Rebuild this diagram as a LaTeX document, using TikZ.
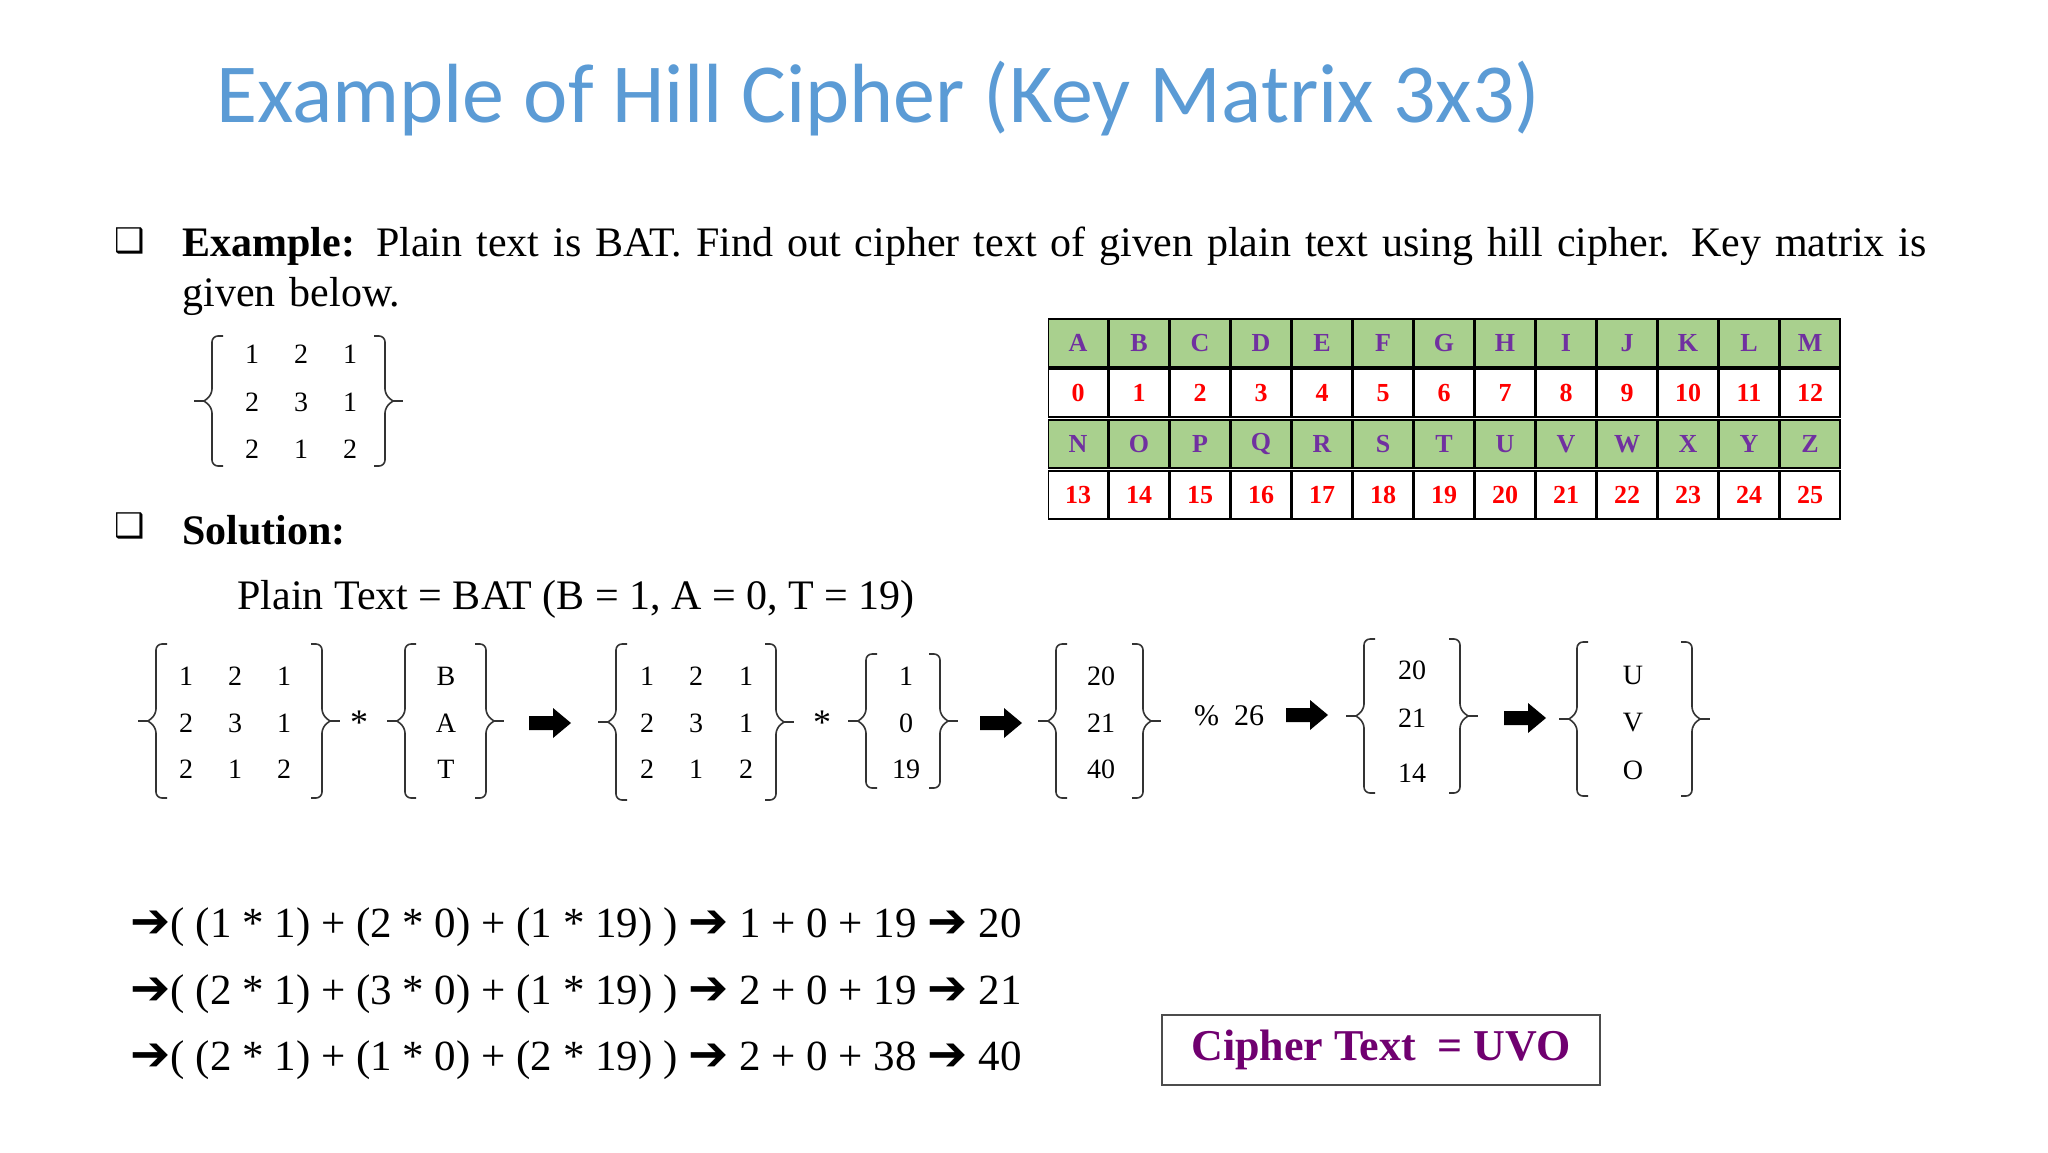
\documentclass[tikz,border=0pt]{standalone}
\usepackage{fontspec}
\setmainfont{Liberation Serif}
\newfontfamily\titlefont{Carlito}
\newfontfamily\symfont{DejaVu Sans}
\definecolor{titleblue}{RGB}{91,155,213}
\definecolor{tgreen}{RGB}{169,208,142}
\definecolor{tpurple}{RGB}{112,48,160}
\definecolor{cpurple}{RGB}{112,0,112}
\tikzset{
  lb/.style={draw=black!80,line width=0.8pt,rounded corners=3pt},
  ent/.style={font=\fontsize{14}{16}\selectfont,inner sep=0pt},
  cell/.style={draw=black,line width=0.8pt,minimum width=29.7pt,minimum height=24.2pt,inner sep=0pt,font=\bfseries\fontsize{13}{15}\selectfont},
  bul/.style={inner sep=0pt,font=\symfont\fontsize{17}{19}\selectfont},
  bigtext/.style={font=\fontsize{21}{25}\selectfont,inner sep=0pt,anchor=west},
}
% bracket pair: #1 left x, #2 right x, #3 top y, #4 bottom y
\newcommand{\brk}[4]{%
  \draw[lb] ({#1+11},#3) -- (#1,#3) -- (#1,{(#3+#4)/2-6}) -- ({#1-8},{(#3+#4)/2});
  \draw[lb] ({#1-8},{(#3+#4)/2}) -- (#1,{(#3+#4)/2+6}) -- (#1,#4) -- ({#1+11},#4);
  \draw[draw=black!80,line width=0.8pt] ({#1-8},{(#3+#4)/2}) -- ({#1-18},{(#3+#4)/2});
  \draw[lb] ({#2-11},#3) -- (#2,#3) -- (#2,{(#3+#4)/2-6}) -- ({#2+8},{(#3+#4)/2});
  \draw[lb] ({#2+8},{(#3+#4)/2}) -- (#2,{(#3+#4)/2+6}) -- (#2,#4) -- ({#2-11},#4);
  \draw[draw=black!80,line width=0.8pt] ({#2+8},{(#3+#4)/2}) -- ({#2+18},{(#3+#4)/2});
}
\newcommand{\blkarrow}[1]{%
  \fill ([shift={(-21,-7)}]#1) -- ([shift={(3,-7)}]#1) -- ([shift={(3,-15)}]#1) -- ([shift={(21,0)}]#1) -- ([shift={(3,15)}]#1) -- ([shift={(3,7)}]#1) -- ([shift={(-21,7)}]#1) -- cycle;
}
\begin{document}
\begin{tikzpicture}[x=0.5pt,y=-0.5pt]
\useasboundingbox (0,0) rectangle (2048,1152);
% title
\node[anchor=west,inner sep=0pt,text=titleblue,font=\titlefont\fontsize{42}{48}\selectfont] (title) at (216,99) {Example of Hill Cipher (Key Matrix 3x3)};
% example
\node[bul] (b1) at (130,241) {❑};
\node[bigtext,anchor=base west,text width=895pt] (ex) at (182,256) {\raggedright\textbf{Example:} Plain text is BAT. Find out cipher text of given plain text using hill cipher. Key matrix is given below.\par};
% key matrix
\brk{212}{385}{336}{466}
\foreach \r/\a/\b/\c [count=\i] in {354/1/2/1,402/2/3/1,449/2/1/2}{
  \node[ent] (k\i a) at (252,\r) {\a};
  \node[ent] (k\i b) at (301,\r) {\b};
  \node[ent] (k\i c) at (350,\r) {\c};
}
% table
\foreach \L [count=\i from 0] in {A,B,C,D,E,F,G,H,I,J,K,L,M}{
  \node[cell,fill=tgreen,text=tpurple] (t\i) at ({1078+61*\i},343) {\L};
  \node[cell,text=red] (n\i) at ({1078+61*\i},393) {\i};
}
\foreach \L [count=\i from 0] in {N,O,P,Q,R,S,T,U,V,W,X,Y,Z}{
  \pgfmathtruncatemacro\v{\i+13}
  \node[cell,fill=tgreen,text=tpurple] (u\i) at ({1078+61*\i},444) {\L};
  \node[cell,text=red] (m\i) at ({1078+61*\i},495) {\v};
}
% solution
\node[bul] (b2) at (130,526) {❑};
\node[bigtext] (sol) at (182,530) {\textbf{Solution:}};
\node[bigtext] (pt) at (237,599) {Plain Text = BAT (B = 1, A = 0, T = 19)};
% matrices row
\begin{scope}[yshift=6pt]
\brk{156}{322}{656}{810}
\foreach \r/\a/\b/\c [count=\i] in {688/1/2/1,735/2/3/1,781/2/1/2}{
  \node[ent] (a\i a) at (186,\r) {\a};
  \node[ent] (a\i b) at (235,\r) {\b};
  \node[ent] (a\i c) at (284,\r) {\c};
}
\node[ent,font=\fontsize{18}{20}\selectfont] (s1) at (359,735) {*};
\brk{405}{486}{656}{810}
\node[ent] (v1) at (446,688) {B};
\node[ent] (v2) at (446,735) {A};
\node[ent] (v3) at (446,781) {T};
\coordinate (ar1) at (550,735); \blkarrow{ar1}
\brk{616}{776}{656}{812}
\foreach \r/\a/\b/\c [count=\i] in {688/1/2/1,735/2/3/1,781/2/1/2}{
  \node[ent] (c\i a) at (647,\r) {\a};
  \node[ent] (c\i b) at (696,\r) {\b};
  \node[ent] (c\i c) at (746,\r) {\c};
}
\node[ent,font=\fontsize{18}{20}\selectfont] (s2) at (822,735) {*};
\brk{866}{940}{666}{800}
\node[ent] (w1) at (906,688) {1};
\node[ent] (w2) at (906,735) {0};
\node[ent] (w3) at (906,781) {19};
\coordinate (ar2) at (1001,735); \blkarrow{ar2}
\brk{1056}{1143}{656}{810}
\node[ent] (x1) at (1101,688) {20};
\node[ent] (x2) at (1101,735) {21};
\node[ent] (x3) at (1101,781) {40};
\node[ent,font=\fontsize{15}{17}\selectfont] (mod) at (1229,728) {\%\ \ 26};
\coordinate (ar3) at (1307,727); \blkarrow{ar3}
\brk{1364}{1460}{651}{805}
\node[ent] (y1) at (1412,682) {20};
\node[ent] (y2) at (1412,730) {21};
\node[ent] (y3) at (1412,785) {14};
\coordinate (ar4) at (1525,730); \blkarrow{ar4}
\brk{1577}{1692}{654}{808}
\node[ent] (z1) at (1633,687) {U};
\node[ent] (z2) at (1633,735) {V};
\node[ent] (z3) at (1633,782) {O};
\end{scope}
% equations
\newcommand{\ar}{{\symfont\bfseries\fontsize{24}{26}\selectfont\char"2794}}
\tikzset{eq/.style={bigtext,font=\fontsize{21.5}{26}\selectfont}}
\node[eq] (e1) at (130,927) {\ar( (1 * 1) + (2 * 0) + (1 * 19) ) \ar\ 1 + 0 + 19 \ar\ 20};
\node[eq] (e2) at (130,994) {\ar( (2 * 1) + (3 * 0) + (1 * 19) ) \ar\ 2 + 0 + 19 \ar\ 21};
\node[eq] (e3) at (130,1060) {\ar( (2 * 1) + (1 * 0) + (2 * 19) ) \ar\ 2 + 0 + 38 \ar\ 40};
% cipher box
\node[draw=black!70,line width=0.8pt,minimum width=219pt,minimum height=35pt,inner sep=0pt,text=cpurple,font=\bfseries\fontsize{22}{26}\selectfont] (cbox) at (1381,1050) {Cipher Text \ = UVO};
\end{tikzpicture}
\end{document}
